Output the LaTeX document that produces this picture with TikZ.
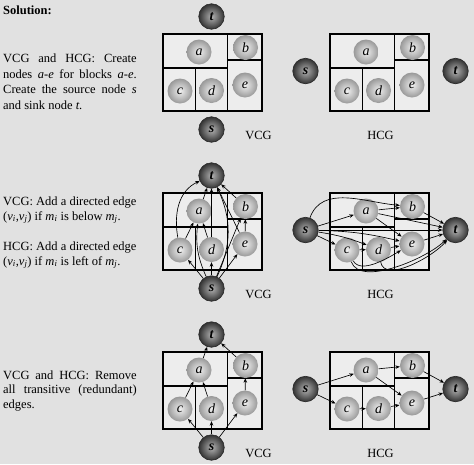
\documentclass[tikz,border=0pt]{standalone}
\usepackage{fontspec}
\setmainfont{Liberation Serif}
\usetikzlibrary{arrows.meta}
\definecolor{bgback}{RGB}{225,225,225}
\definecolor{cellfill}{RGB}{237,237,237}
\tikzset{
  blk/.style={circle, inner sep=0pt, minimum size=25pt, inner color=white!94!black, outer color=black!40, font=\fontsize{14}{14}\selectfont\itshape},
  term/.style={circle, inner sep=0pt, minimum size=25.5pt, draw=black!85, line width=0.6pt, inner color=black!30, outer color=black!80, font=\fontsize{14}{14}\selectfont\bfseries\itshape},
  edge/.style={-{Stealth[length=4.5pt,width=3.6pt]}, line width=0.65pt},
  txt/.style={anchor=base west, inner sep=0pt, font=\fontsize{12.5}{15}\selectfont},
}
\newcommand{\sub}[2]{\textit{#1}\textsubscript{\textit{#2}}}

\begin{document}
\begin{tikzpicture}[x=1pt,y=1pt]
    \fill [bgback] (0,0) rectangle (474,-464);
    \useasboundingbox (0,0) rectangle (474,-464);
    % floorplans with blocks a-e
    \foreach \x/\y/\n in {163/34/v1,330/34/h1,163/193/v2,330/193/h2,163/352/v3,330/352/h3}{
      \fill [cellfill] (\x,-\y) rectangle (\x+99,-\y-77);
      \draw [line width=1.2pt] (\x,-\y-34) -- (\x+64.5,-\y-34);
      \draw [line width=1.2pt] (\x+64.5,-\y) -- (\x+64.5,-\y-77);
      \draw [line width=1.2pt] (\x+64.5,-\y-26) -- (\x+99,-\y-26);
      \draw [line width=1.2pt] (\x+32.5,-\y-34) -- (\x+32.5,-\y-77);
      \draw [line width=1.6pt] (\x,-\y) rectangle (\x+99,-\y-77);
      \node [blk] (\n-a) at (\x+36,-\y-18) {a};
      \node [blk] (\n-b) at (\x+82.5,-\y-13.5) {b};
      \node [blk] (\n-c) at (\x+17,-\y-57) {c};
      \node [blk] (\n-d) at (\x+48.5,-\y-56.5) {d};
      \node [blk] (\n-e) at (\x+82,-\y-51) {e};
    }
    % source and sink
    \foreach \y/\n in {34/v1,193/v2,352/v3}{
      \node [term] (\n-t) at (211.5,-\y+17.5) {t};
      \node [term] (\n-s) at (211.5,-\y-95.5) {s};
      \node [txt, anchor=base] (\n-lab) at (258.5,-\y-105) {VCG};
    }
    \foreach \y/\n in {34/h1,193/h2,352/h3}{
      \node [term] (\n-s) at (305.5,-\y-37) {s};
      \node [term] (\n-t) at (455.5,-\y-37) {t};
      \node [txt, anchor=base] (\n-lab) at (380.5,-\y-105) {HCG};
    }
    % all edges, VCG
    \draw [edge] (v2-s) -- (v2-c);
    \draw [edge] (v2-s) -- (v2-d);
    \draw [edge] (v2-s) -- (v2-e);
    \draw [edge] (v2-s) to[bend left=15] (v2-a);
    \draw [edge] (v2-s) to[bend right=25] (v2-t);
    \draw [edge] (v2-s) -- (v2-b);
    \draw [edge] (v2-c) -- (v2-a);
    \draw [edge] (v2-c) to[out=100,in=205] (v2-t);
    \draw [edge] (v2-d) -- (v2-a);
    \draw [edge] (v2-d) -- (v2-t);
    \draw [edge] (v2-e) -- (v2-b);
    \draw [edge] (v2-e) -- (v2-t);
    \draw [edge] (v2-a) -- (v2-t);
    \draw [edge] (v2-b) -- (v2-t);
    % all edges, HCG
    \draw [edge] (h2-s) to[out=70,in=175] (h2-b);
    \draw [edge] (h2-s) -- (h2-a);
    \draw [edge] (h2-s) -- (h2-t);
    \draw [edge] (h2-s) to[bend left=6] (h2-d);
    \draw [edge] (h2-s) to[bend left=6] (h2-e);
    \draw [edge] (h2-s) -- (h2-c);
    \draw [edge] (h2-a) -- (h2-b);
    \draw [edge] (h2-a) -- (h2-e);
    \draw [edge] (h2-a) -- (h2-t);
    \draw [edge] (h2-c) -- (h2-d);
    \draw [edge] (h2-c) to[out=-60,in=-150,looseness=0.8] (h2-e);
    \draw [edge] (h2-c) to[out=-70,in=-135,looseness=0.7] (h2-t);
    \draw [edge] (h2-d) -- (h2-e);
    \draw [edge] (h2-d) to[out=-80,in=-130,looseness=0.8] (h2-t);
    \draw [edge] (h2-b) -- (h2-t);
    \draw [edge] (h2-e) -- (h2-t);
    % reduced edges
    \draw [edge] (v3-s) -- (v3-c);
    \draw [edge] (v3-s) -- (v3-d);
    \draw [edge] (v3-s) -- (v3-e);
    \draw [edge] (v3-c) -- (v3-a);
    \draw [edge] (v3-d) -- (v3-a);
    \draw [edge] (v3-e) -- (v3-b);
    \draw [edge] (v3-a) -- (v3-t);
    \draw [edge] (v3-b) -- (v3-t);
    \draw [edge] (h3-s) -- (h3-a);
    \draw [edge] (h3-s) -- (h3-c);
    \draw [edge] (h3-a) -- (h3-b);
    \draw [edge] (h3-a) -- (h3-e);
    \draw [edge] (h3-c) -- (h3-d);
    \draw [edge] (h3-d) -- (h3-e);
    \draw [edge] (h3-b) -- (h3-t);
    \draw [edge] (h3-e) -- (h3-t);
    % text column
    \node [txt, font=\fontsize{12.5}{15}\selectfont\bfseries] (sol) at (3,-14) {Solution:};
    \node [txt] (p1a) at (3,-62.5) {\makebox[133.5pt][s]{VCG and HCG: Create}};
    \node [txt] (p1b) at (3,-78) {\makebox[133.5pt][s]{nodes \textit{a-e} for blocks \textit{a-e}.}};
    \node [txt] (p1c) at (3,-93.5) {\makebox[133.5pt][s]{Create the source node \textit{s}}};
    \node [txt] (p1d) at (3,-109) {and sink node \textit{t}.};
    \node [txt] (p2a) at (3,-205.5) {VCG: Add a directed edge};
    \node [txt] (p2b) at (3,-220) {(\sub{v}{i},\sub{v}{j}) if \sub{m}{i} is below \sub{m}{j}.};
    \node [txt] (p2c) at (3,-250.5) {HCG: Add a directed edge};
    \node [txt] (p2d) at (3,-265) {(\sub{v}{i},\sub{v}{j}) if \sub{m}{i} is left of \sub{m}{j}.};
    \node [txt] (p3a) at (3,-379) {\makebox[133.5pt][s]{VCG and HCG: Remove}};
    \node [txt] (p3b) at (3,-393.5) {\makebox[133.5pt][s]{all transitive (redundant)}};
    \node [txt] (p3c) at (3,-408) {edges.};
\end{tikzpicture}
\end{document}
